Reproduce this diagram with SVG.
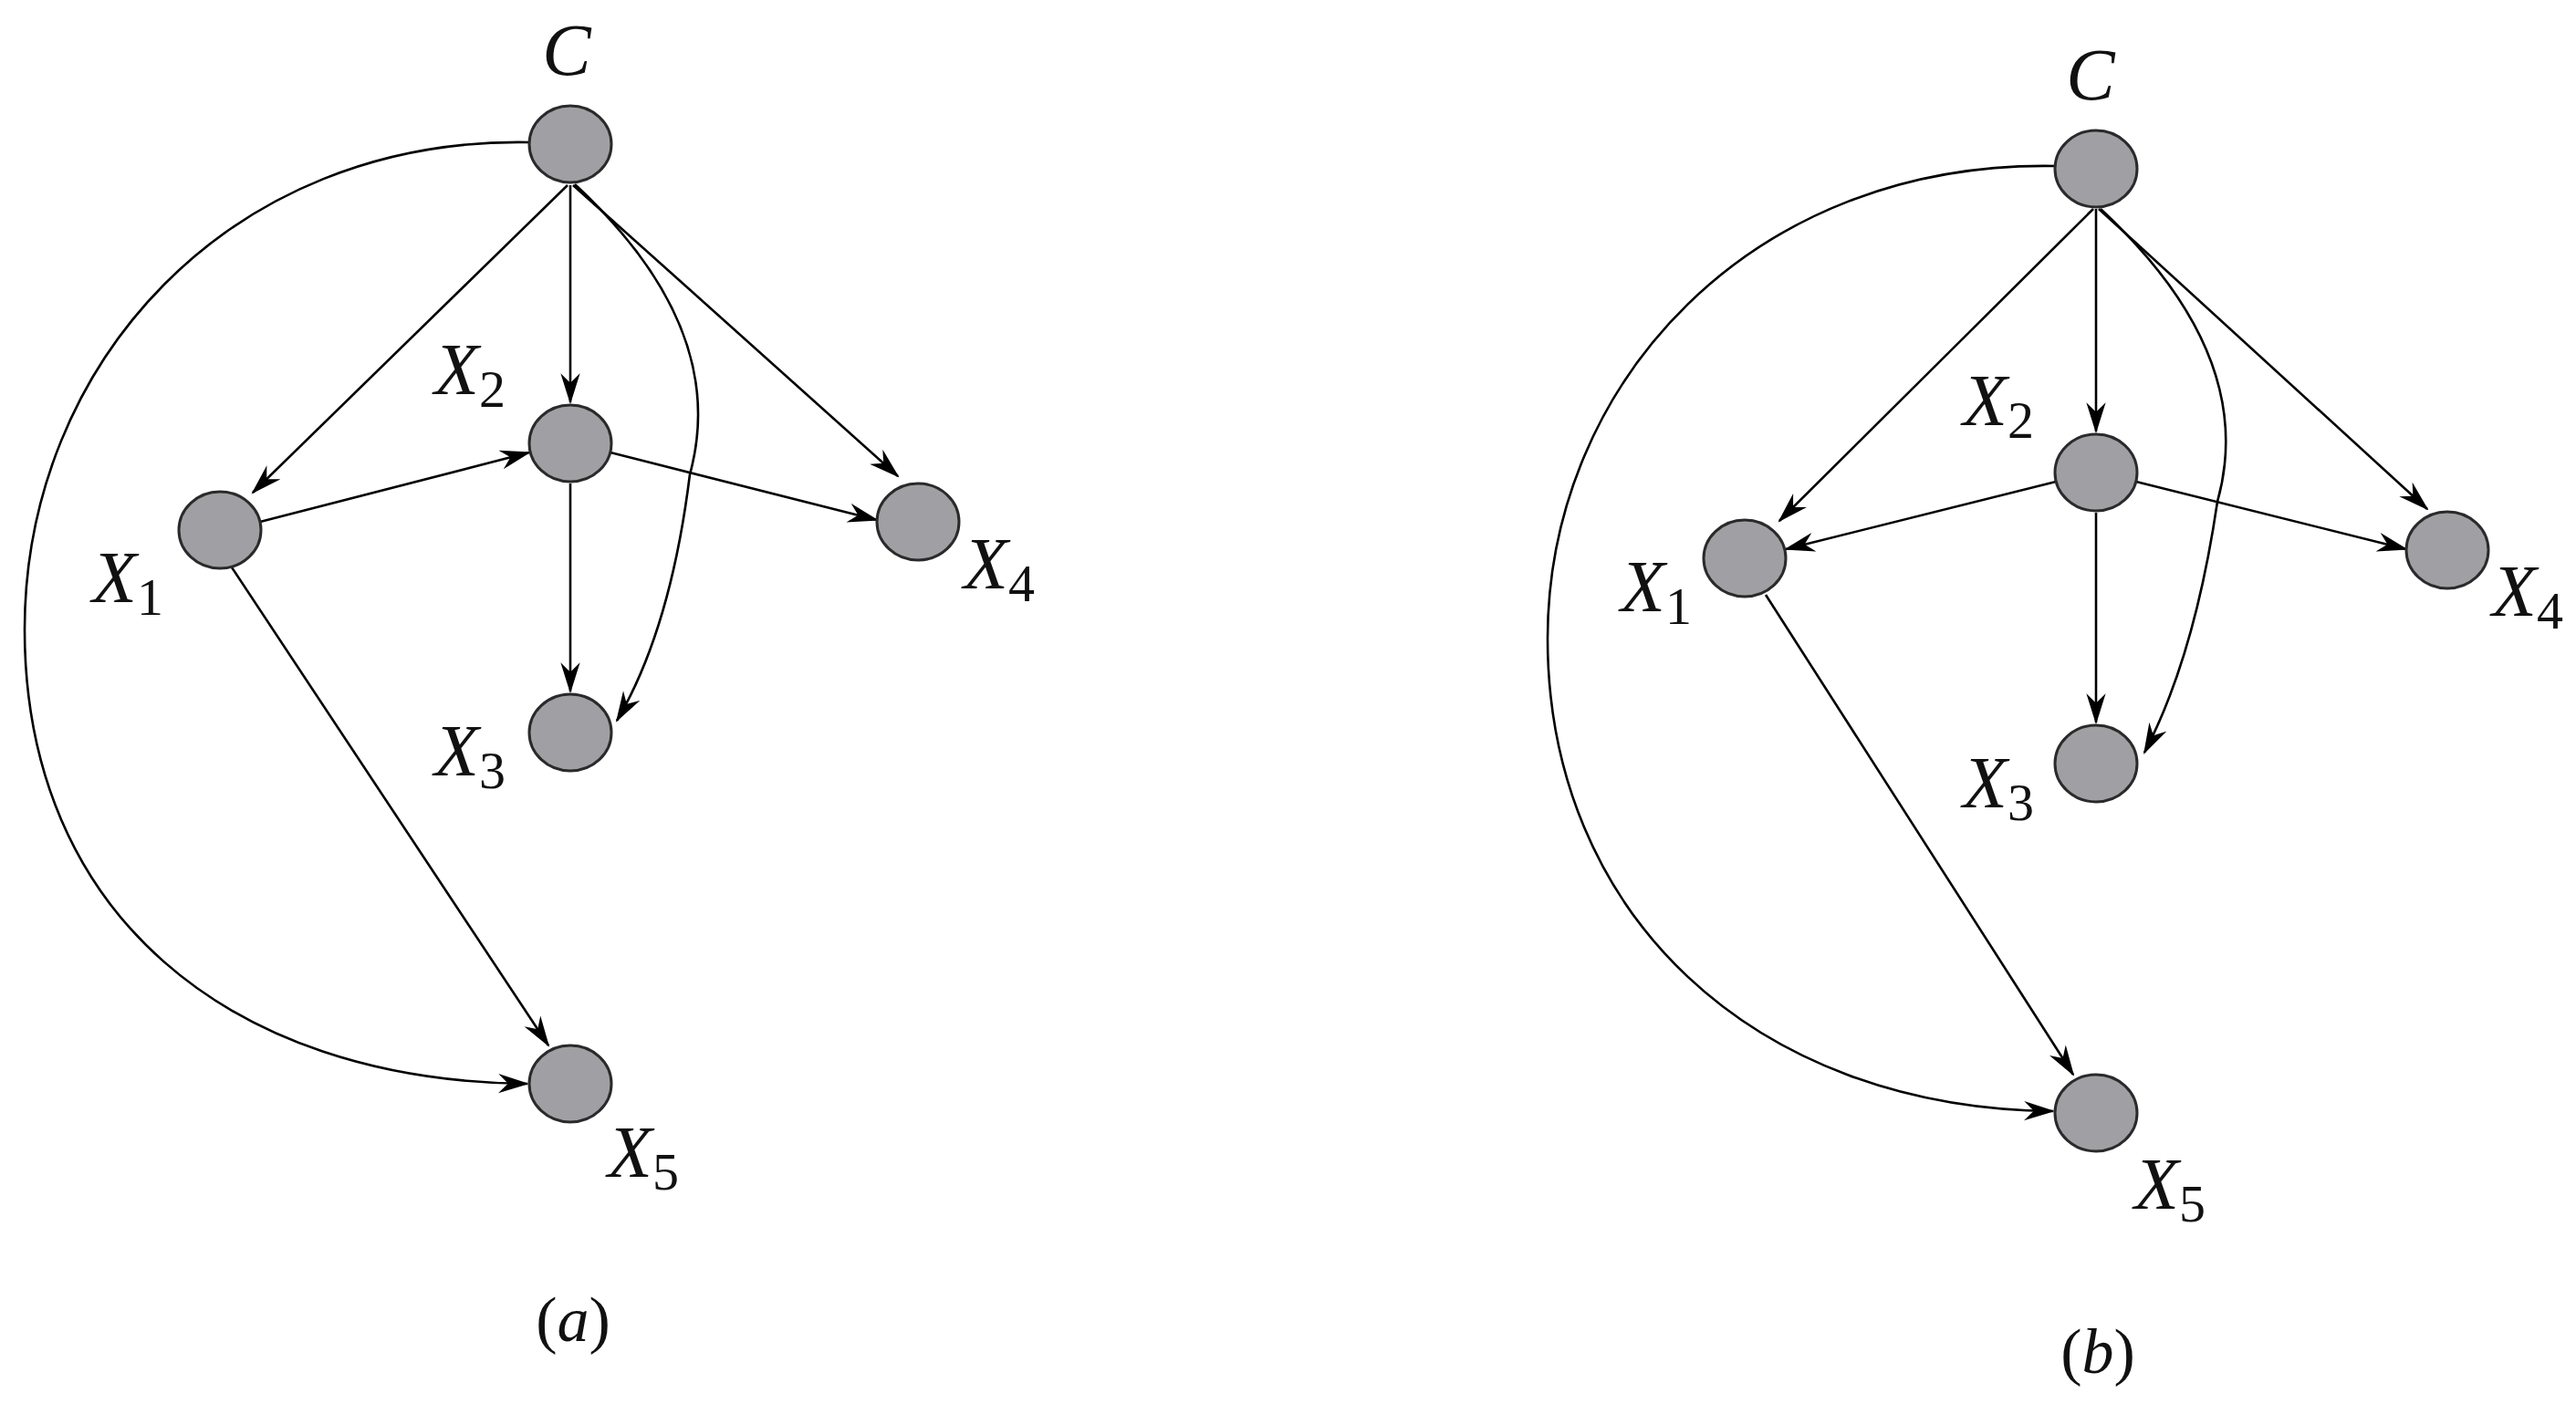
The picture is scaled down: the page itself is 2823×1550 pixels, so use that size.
<svg xmlns="http://www.w3.org/2000/svg" width="2823" height="1550" viewBox="0 0 2823 1550">
<style>
.n{fill:#a0a0a4;stroke:#2a2a2a;stroke-width:3}
.e{fill:none;stroke:#000;stroke-width:2.6;marker-end:url(#ah)}
.t{font-family:"Liberation Serif",serif;font-style:italic;font-size:80px;fill:#111;text-anchor:middle}
.s{font-style:normal;font-size:58px}
.c{font-family:"Liberation Serif",serif;font-size:70px;fill:#111;text-anchor:middle}
</style>
<defs>
<marker id="ah" viewBox="0 0 16 10" refX="15" refY="5" markerWidth="34" markerHeight="22" markerUnits="userSpaceOnUse" orient="auto">
<path d="M0,0 L16,5 L0,10 L5,5 z" fill="#000"/>
</marker>
</defs>
<g id="connectors">
<path class="e" d="M580,156 C250,150 27,400 27,690 C27,1000 250,1185 578,1188"/>
<path class="e" d="M630,202 Q800,360 756,520 Q735,690 676,790"/>
<path class="e" d="M622,203 L277,540"/>
<path class="e" d="M625,203 L625,441"/>
<path class="e" d="M628,203 L984,522"/>
<path class="e" d="M285,572 L580,496"/>
<path class="e" d="M669,496 L961,570"/>
<path class="e" d="M625,530 L625,758"/>
<path class="e" d="M254,622 L601,1146"/>
<path class="e" d="M2254,182 C1920,175 1696,420 1696,700 C1696,1000 1920,1215 2250,1218"/>
<path class="e" d="M2302,229 Q2475,390 2430,550 Q2405,720 2350,825"/>
<path class="e" d="M2294,229 L1950,571"/>
<path class="e" d="M2297,229 L2297,473"/>
<path class="e" d="M2300,229 L2660,558"/>
<path class="e" d="M2253,528 L1957,602"/>
<path class="e" d="M2341,528 L2637,602"/>
<path class="e" d="M2297,562 L2297,792"/>
<path class="e" d="M1935,652 L2272,1178"/>
</g>
<g id="a-C"><ellipse class="n" cx="625" cy="158" rx="45" ry="42"/><text class="t" x="621" y="82">C</text></g>
<g id="a-X2"><ellipse class="n" cx="625" cy="486" rx="45" ry="42"/><text class="t" x="515" y="432">X<tspan class="s" dy="14">2</tspan></text></g>
<g id="a-X1"><ellipse class="n" cx="241" cy="581" rx="45" ry="42"/><text class="t" x="140" y="660">X<tspan class="s" dy="14">1</tspan></text></g>
<g id="a-X4"><ellipse class="n" cx="1006" cy="572" rx="45" ry="42"/><text class="t" x="1095" y="645">X<tspan class="s" dy="14">4</tspan></text></g>
<g id="a-X3"><ellipse class="n" cx="625" cy="803" rx="45" ry="42"/><text class="t" x="515" y="850">X<tspan class="s" dy="14">3</tspan></text></g>
<g id="a-X5"><ellipse class="n" cx="625" cy="1188" rx="45" ry="42"/><text class="t" x="705" y="1290">X<tspan class="s" dy="14">5</tspan></text></g>
<text class="c" x="628" y="1470">(<tspan font-style="italic">a</tspan>)</text>
<g id="b-C"><ellipse class="n" cx="2297" cy="185" rx="45" ry="42"/><text class="t" x="2291" y="109">C</text></g>
<g id="b-X2"><ellipse class="n" cx="2297" cy="518" rx="45" ry="42"/><text class="t" x="2190" y="466">X<tspan class="s" dy="14">2</tspan></text></g>
<g id="b-X1"><ellipse class="n" cx="1912" cy="612" rx="45" ry="42"/><text class="t" x="1815" y="670">X<tspan class="s" dy="14">1</tspan></text></g>
<g id="b-X4"><ellipse class="n" cx="2682" cy="603" rx="45" ry="42"/><text class="t" x="2770" y="675">X<tspan class="s" dy="14">4</tspan></text></g>
<g id="b-X3"><ellipse class="n" cx="2297" cy="837" rx="45" ry="42"/><text class="t" x="2190" y="885">X<tspan class="s" dy="14">3</tspan></text></g>
<g id="b-X5"><ellipse class="n" cx="2297" cy="1220" rx="45" ry="42"/><text class="t" x="2378" y="1325">X<tspan class="s" dy="14">5</tspan></text></g>
<text class="c" x="2299" y="1505">(<tspan font-style="italic">b</tspan>)</text>
</svg>
